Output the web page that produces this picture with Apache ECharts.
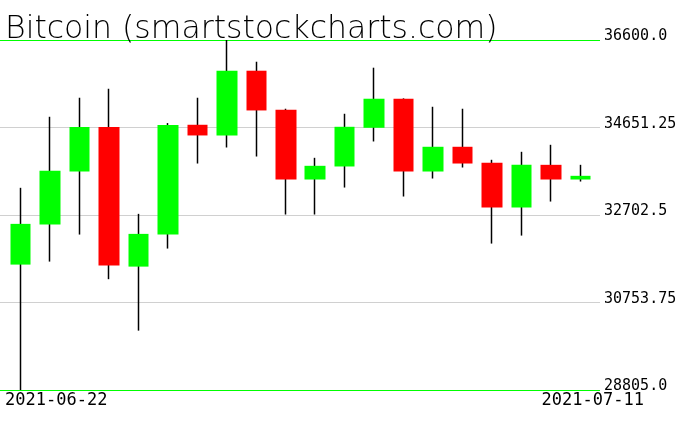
<!DOCTYPE html>
<html>
<head>
<meta charset="utf-8">
<script src="https://cdn.jsdelivr.net/npm/echarts@6/dist/echarts.min.js"></script>
<style>
  html, body { margin: 0; padding: 0; background: #fff; }
  #chart { width: 676px; height: 431px; }
</style>
</head>
<body>
<div id="chart"></div>
<script>
// 日期与OHLC数据
const dates = [
  "2021-06-22", "2021-06-23", "2021-06-24", "2021-06-25", "2021-06-26",
  "2021-06-27", "2021-06-28", "2021-06-29", "2021-06-30", "2021-07-01",
  "2021-07-02", "2021-07-03", "2021-07-04", "2021-07-05", "2021-07-06",
  "2021-07-07", "2021-07-08", "2021-07-09", "2021-07-10", "2021-07-11",
];
const opens = [31598, 32490, 33671, 34661, 31553, 32267, 34712, 34474, 35916, 35046,
  33493, 33783, 34645, 35292, 33671, 34222, 33865, 32869, 33820, 33493];
const closes = [32505, 33687, 34661, 31576, 32282, 34705, 34474, 35916, 35031, 33493,
  33798, 34667, 35292, 33671, 34222, 33849, 32869, 33820, 33493, 33575];
const lows = [28805, 31665, 32267, 31273, 30127, 31955, 33849, 34206, 34005, 32713,
  32713, 33314, 34340, 33114, 33515, 33760, 32066, 32244, 33002, 33448];
const highs = [33308, 34890, 35314, 35514, 32728, 34750, 35314, 36600, 36116, 35069,
  33976, 34957, 35983, 35300, 35113, 35069, 33932, 34110, 34266, 33820];
const yTicks = [28805.0, 30753.75, 32702.5, 34651.25, 36600.0];

const yMin = yTicks[0];
const yMax = yTicks[yTicks.length - 1];

const wickData = dates.map((d, i) => [opens[i], closes[i], lows[i], highs[i]]);
const bodyData = dates.map((d, i) => [
  opens[i], closes[i],
  Math.min(opens[i], closes[i]), Math.max(opens[i], closes[i]),
]);

const myChart = echarts.init(document.querySelector("#chart"));

const option = {
  animation: false,
  backgroundColor: "#fff",
  title: {
    text: "Bitcoin (smartstockcharts.com)",
    left: 0,
    top: 9,
    textStyle: {
      fontFamily: "DejaVu Sans",
      fontWeight: 200,
      fontSize: 31.5,
      color: "#000",
    },
  },
  grid: [
    { left: 0, right: 76, top: 40, bottom: 41, outerBoundsMode: "none", containLabel: false },
    { left: 6, right: 81, top: 40, bottom: 41, outerBoundsMode: "none", containLabel: false },
  ],
  xAxis: [
    { gridIndex: 0, type: "category", data: dates, show: false },
    {
      gridIndex: 1,
      type: "category",
      data: dates,
      boundaryGap: true,
      axisLine: { show: false },
      axisTick: { show: false },
      splitLine: { show: false },
      axisLabel: {
        margin: 2,
        interval: (i) => i === 0 || i === dates.length - 1,
        formatter: (value, index) =>
          index === 0 ? "{a|" + value + "}" : "{b|" + value + "}",
        rich: {
          a: {
            fontFamily: "DejaVu Sans Mono",
            fontSize: 17,
            color: "#000",
            padding: [0, 0, 0, 71],
          },
          b: {
            fontFamily: "DejaVu Sans Mono",
            fontSize: 17,
            color: "#000",
            padding: [0, 0, 0, 25],
          },
        },
      },
    },
  ],
  yAxis: [
    {
      gridIndex: 0,
      type: "value",
      position: "right",
      min: yMin,
      max: yMax,
      axisLine: { show: false },
      axisTick: { show: false, customValues: yTicks },
      splitLine: {
        show: true,
        lineStyle: {
          color: ["#00ff00", "#d0d0d0", "#d0d0d0", "#d0d0d0", "#00ff00"],
          width: 1,
        },
      },
      axisLabel: {
        customValues: yTicks,
        margin: 4,
        verticalAlign: "bottom",
        lineHeight: 7,
        fontFamily: "DejaVu Sans Mono",
        fontSize: 15,
        color: (v) => (v === yMin || v === yMax ? "#00ff00" : "#000"),
        formatter: (v) => (v === yMin || v === yMax ? v.toFixed(1) : String(v)),
      },
    },
    {
      gridIndex: 1,
      type: "value",
      min: yMin,
      max: yMax,
      show: false,
      splitLine: { show: false },
    },
  ],
  series: [
    {
      name: "wick",
      type: "candlestick",
      xAxisIndex: 1,
      yAxisIndex: 1,
      barWidth: 1,
      data: wickData,
      itemStyle: {
        color: "#000",
        color0: "#000",
        borderColor: "#000",
        borderColor0: "#000",
        borderWidth: 1.5,
      },
      emphasis: { disabled: true },
    },
    {
      name: "body",
      type: "candlestick",
      xAxisIndex: 1,
      yAxisIndex: 1,
      barWidth: 21,
      data: bodyData,
      itemStyle: {
        color: "#00ff00",
        color0: "#ff0000",
        borderColor: "#00ff00",
        borderColor0: "#ff0000",
        borderWidth: 0,
      },
      emphasis: { disabled: true },
    },
  ],
};

myChart.setOption(option);
window.addEventListener("resize", () => {
  myChart.resize();
});
</script>
</body>
</html>
